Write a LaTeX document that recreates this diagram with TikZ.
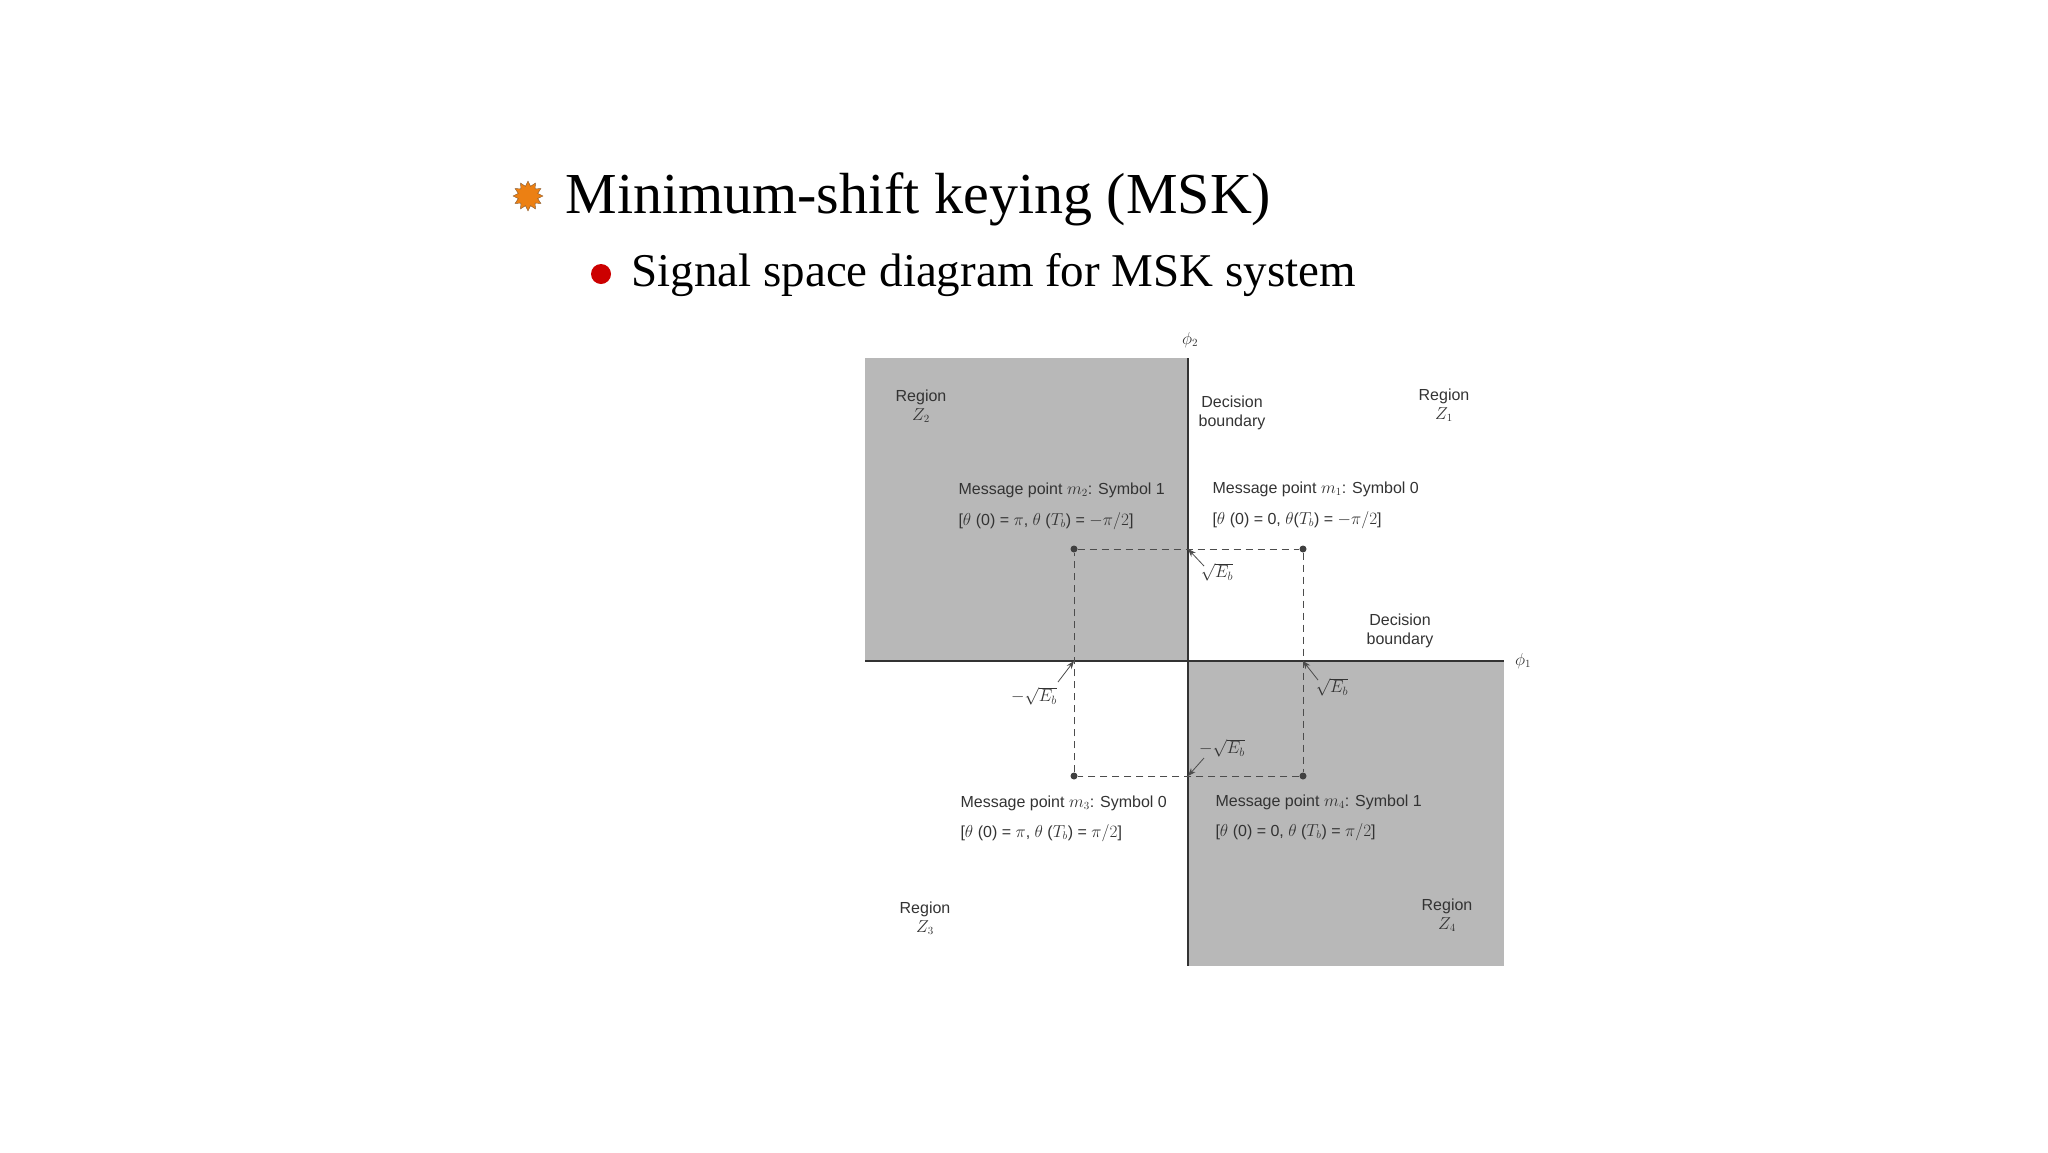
\documentclass[tikz,border=0pt]{standalone}
\usepackage{fontspec}
\setmainfont{Liberation Serif}
\newfontfamily\lab{Liberation Sans}
\usetikzlibrary{shapes.geometric,arrows.meta}
\begin{document}
\begin{tikzpicture}[x=1pt,y=-1pt,
  lbl/.style={font=\lab\fontsize{16}{19}\selectfont,text=black!80,align=center},
  msg/.style={font=\lab\fontsize{16}{19}\selectfont,text=black!80,anchor=west},
  dsh/.style={dashed,dash pattern=on 7pt off 5pt,line width=1pt,black!70},
  pt/.style={circle,fill=black!75,inner sep=0pt,minimum size=7pt},
  ptr/.style={-{Stealth[length=8pt]},line width=0.8pt,black!70}]
\useasboundingbox (0,0) rectangle (2048,1152);
% title
\node[star,star points=12,star point ratio=1.5,fill=orange!70!brown,draw=brown!70!black,minimum size=30pt,inner sep=0pt] (b1) at (528,196) {};
\node[anchor=west,font=\fontsize{58}{66}\selectfont] (t1) at (562,199) {Minimum-shift keying (MSK)};
\node[circle,fill=red!80!black,minimum size=20pt,inner sep=0pt] (b2) at (601,274) {};
\node[anchor=west,font=\fontsize{47}{54}\selectfont] (t2) at (628,275) {Signal space diagram for MSK system};
% regions
\fill[black!28] (865,358) rectangle (1188,661);
\fill[black!28] (1188,661) rectangle (1504,966);
\coordinate (ht) at (1188,358); \coordinate (hb) at (1188,966);
\coordinate (vl) at (865,661); \coordinate (vr) at (1504,661);
\draw[line width=1.6pt,black!80] (ht) -- (hb);
\draw[line width=1.6pt,black!80] (vl) -- (vr);
\node[lbl] (phi2) at (1190,340) {$\phi_2$};
\node[lbl] (phi1) at (1523,661) {$\phi_1$};
% points
\node[pt] (m2) at (1074,549) {};
\node[pt] (m1) at (1303,549) {};
\node[pt] (m3) at (1074,776) {};
\node[pt] (m4) at (1303,776) {};
\draw[dsh] (m2) -- (m1) -- (m4) -- (m3) -- (m2);
% texts
\node[lbl] (z2) at (921,406) {Region\\$Z_2$};
\node[lbl] (z1) at (1444,405) {Region\\$Z_1$};
\node[lbl] (z3) at (925,918) {Region\\$Z_3$};
\node[lbl] (z4) at (1447,915) {Region\\$Z_4$};
\node[lbl] (db1) at (1232,413) {Decision\\boundary};
\node[lbl] (db2) at (1400,631) {Decision\\boundary};
\node[msg] (t2a) at (955,490) {Message point $m_2$: Symbol 1};
\node[msg] (t2b) at (955,521) {[$\theta$ (0) = $\pi$, $\theta$ ($T_b$) = $-\pi/2$]};
\node[msg] (t1a) at (1209,489) {Message point $m_1$: Symbol 0};
\node[msg] (t1b) at (1209,520) {[$\theta$ (0) = 0, $\theta$($T_b$) = $-\pi/2$]};
\node[msg] (t3a) at (957,803) {Message point $m_3$: Symbol 0};
\node[msg] (t3b) at (957,833) {[$\theta$ (0) = $\pi$, $\theta$ ($T_b$) = $\pi/2$]};
\node[msg] (t4a) at (1212,802) {Message point $m_4$: Symbol 1};
\node[msg] (t4b) at (1212,832) {[$\theta$ (0) = 0, $\theta$ ($T_b$) = $\pi/2$]};
% sqrt labels
\coordinate (a1) at (1188,549); \coordinate (a2) at (1303,661);
\coordinate (a3) at (1074,661); \coordinate (a4) at (1188,776);
\node[lbl,font=\fontsize{18}{20}\selectfont] (s1) at (1217,572) {$\sqrt{E_b}$};
\node[lbl,font=\fontsize{18}{20}\selectfont] (s2) at (1332,687) {$\sqrt{E_b}$};
\node[lbl,font=\fontsize{18}{20}\selectfont] (s3) at (1034,696) {$-\sqrt{E_b}$};
\node[lbl,font=\fontsize{18}{20}\selectfont] (s4) at (1222,748) {$-\sqrt{E_b}$};
\draw[ptr] (1204,566) -- (a1);
\draw[ptr] (1318,680) -- (a2);
\draw[ptr] (1058,682) -- (a3);
\draw[ptr] (1204,758) -- (a4);
\end{tikzpicture}
\end{document}
